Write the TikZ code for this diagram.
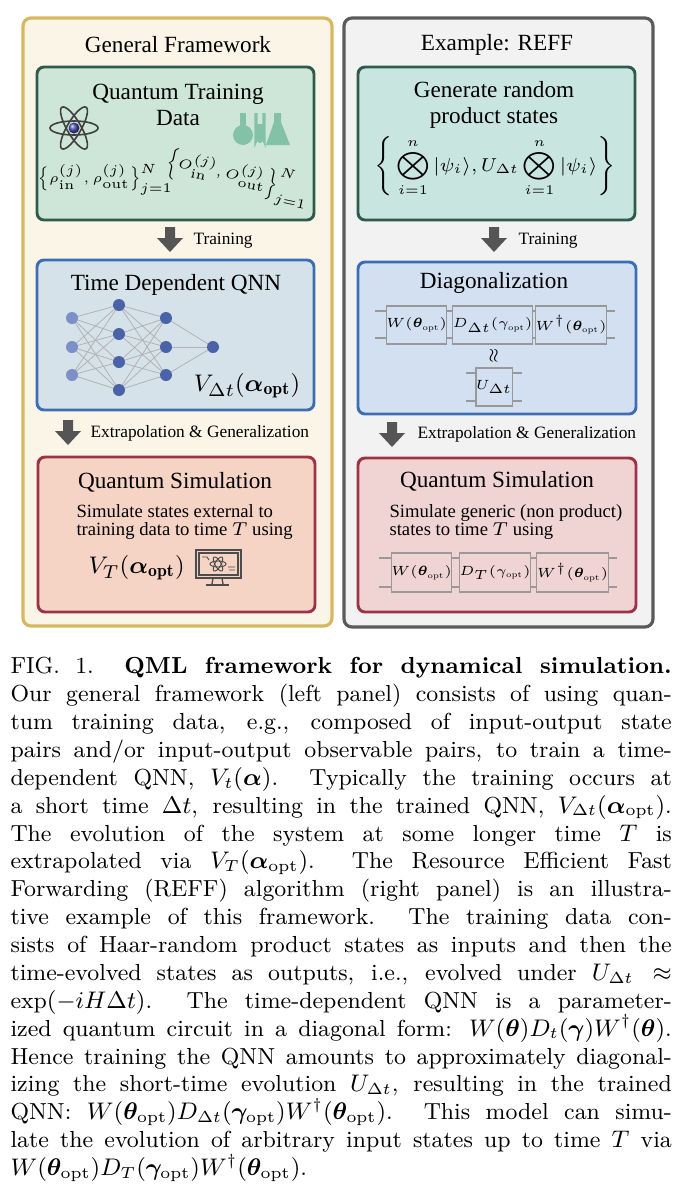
\documentclass[tikz,border=0pt]{standalone}
\usepackage{amsmath,amssymb,bm}
\usepackage{fontspec}
\newfontfamily\tms{Liberation Serif}
\usetikzlibrary{calc}
\definecolor{lpanel}{HTML}{FBF5E8}\definecolor{lpanelb}{HTML}{D8B85E}
\definecolor{rpanel}{HTML}{F2F2F2}\definecolor{rpanelb}{HTML}{5A5A5A}
\definecolor{grn}{HTML}{CDE6D8}\definecolor{grn2}{HTML}{C8E6DF}\definecolor{grnb}{HTML}{2E5B4B}
\definecolor{blu}{HTML}{D6E2EA}\definecolor{blu2}{HTML}{D2E0F2}\definecolor{blub}{HTML}{3D6DB5}
\definecolor{red1}{HTML}{F5D3C5}\definecolor{red2}{HTML}{F0D3D3}\definecolor{redb}{HTML}{9E3346}
\definecolor{arrc}{HTML}{555555}\definecolor{nn1}{HTML}{7C8FC6}\definecolor{nn2}{HTML}{4A62A8}
\definecolor{flask}{HTML}{83C2A7}
\newcommand{\downarr}[2]{\fill[arrc] (#1-5,#2) -- (#1+5,#2) -- (#1+5,#2+11) -- (#1+13,#2+11) -- (#1,#2+25) -- (#1-13,#2+11) -- (#1-5,#2+11) -- cycle;}
\begin{document}
\begin{tikzpicture}[x=0.375pt,y=-0.375pt,
  panel/.style={rounded corners=8pt*0.375,line width=1.2pt},
  box/.style={rounded corners=7pt*0.375,line width=1.1pt},
  txt/.style={inner sep=0pt,font=\tms\fontsize{8.7}{10.5}\selectfont},
  sub/.style={inner sep=0pt,font=\tms\fontsize{7}{8.5}\selectfont,align=left},
  lab/.style={inner sep=0pt,font=\tms\fontsize{6.5}{8}\selectfont,anchor=west},
  gate/.style={draw=gray!80,line width=0.4pt,inner sep=0pt,font=\fontsize{4.3}{5}\selectfont},
  wire/.style={draw=gray!80,line width=0.4pt},
  nd/.style={circle,inner sep=0pt,minimum size=12*0.375pt}]
\useasboundingbox (0,0) rectangle (680,1200);
% panels
\draw[panel,fill=lpanel,draw=lpanelb] (23,18) rectangle (332,626);
\draw[panel,fill=rpanel,draw=rpanelb] (344,18) rectangle (653,627);
\node[txt] (t1) at (178,45) {General Framework};
\node[txt] (t2) at (497,45) {Example: REFF};
% left boxes
\draw[box,fill=grn,draw=grnb] (37,67) rectangle (314,220);
\draw[box,fill=blu,draw=blub] (37,260) rectangle (314,410);
\draw[box,fill=red1,draw=redb] (38,457) rectangle (315,612);
% right boxes
\draw[box,fill=grn2,draw=grnb] (358,67) rectangle (635,220);
\draw[box,fill=blu2,draw=blub] (358,262) rectangle (636,414);
\draw[box,fill=red2,draw=redb] (358,458) rectangle (636,612);
% left green content
\node[txt,align=center] (qtd) at (178,105) {Quantum Training\\[-1pt]Data};
\begin{scope}[shift={(74,128)},draw=black!75,line width=0.6pt]
 \foreach \a in {0,60,120}{\draw[rotate=\a] (0,0) ellipse (24 and 7);}
 \shade[ball color=blue!40!gray] (0,0) circle (5.5);
\end{scope}
\begin{scope}[fill=flask,draw=flask]
 \fill (243,135) circle (10); \fill (240,113) rectangle (246,128);
 \draw[line width=1.2pt] (256,113) -- (256,140) arc (180:360:4) -- (264,113);
 \fill (257,124) rectangle (263,140); \fill (260,140) circle (3);
 \fill (274,113) -- (281,113) -- (281,122) -- (290,145) -- (266,145) -- (274,122) -- cycle;
\end{scope}
\node[inner sep=0pt,font=\fontsize{5}{6}\selectfont] (rho) at (106,180) {$\Big\{\rho_{\rm in}^{(j)},\rho_{\rm out}^{(j)}\Big\}_{j=1}^{N}$};
\node[inner sep=0pt,font=\fontsize{5}{6}\selectfont,rotate=-12] (obs) at (238,178) {$\bigg\{O_{\rm in}^{(j)},O_{\rm out}^{(j)}\bigg\}_{j=1}^{N}$};
% arrows
\downarr{170}{227}
\node[lab] (tr1) at (193,241) {Training};
\downarr{494}{227}
\node[lab] (tr2) at (518,241) {Training};
\downarr{68}{420}
\node[lab] (ex1) at (90,433) {Extrapolation \& Generalization};
\downarr{392}{422}
\node[lab] (ex2) at (417,434) {Extrapolation \& Generalization};
% QNN
\node[txt] (tdq) at (176,285) {Time Dependent QNN};
\foreach \i/\y in {1/318,2/347,3/375}{\coordinate (a\i) at (72,\y);}
\foreach \i/\y in {1/305,2/334,3/362,4/390}{\coordinate (b\i) at (119,\y);}
\foreach \i/\y in {1/318,2/347,3/375}{\coordinate (c\i) at (166,\y);}
\coordinate (d1) at (213,347);
\foreach \i in {1,2,3}{\foreach \j in {1,2,3,4}{\draw[gray!60,line width=0.3pt] (a\i) -- (b\j) (b\j) -- (c\i);}\draw[gray!60,line width=0.3pt] (c\i) -- (d1);}
\foreach \i in {1,2,3}{\node[nd,fill=nn1] (na\i) at (a\i) {};\node[nd,fill=nn2] (nc\i) at (c\i) {};}
\foreach \i in {1,2,3,4}{\node[nd,fill=nn2] (nb\i) at (b\i) {};}
\node[nd,fill=nn2] (nd1) at (d1) {};
\node[inner sep=0pt,font=\fontsize{9.5}{11}\selectfont] (vdt) at (247,386) {$V_{\Delta t}(\bm{\alpha}_{\mathbf{opt}})$};
% left red
\node[txt] (qs1) at (175,482) {Quantum Simulation};
\node[sub,anchor=west] (ss1) at (76,522) {Simulate states external to\\[-1.5pt]training data to time $T$ using};
\node[inner sep=0pt,font=\fontsize{9.5}{11}\selectfont,anchor=west] (vt) at (88,568) {$V_{T}(\bm{\alpha}_{\mathbf{opt}})$};
\begin{scope}[draw=black!70,line width=0.5pt]
 \draw (196,550) rectangle (241,578); \draw (199,553) rectangle (238,575);
 \draw (213,578) -- (212,584) (222,578) -- (223,584); \draw (206,585) -- (229,585);
 \foreach \a in {0,60,120}{\draw[rotate around={\a:(218,564)},line width=0.35pt] (218,564) ellipse (8 and 3);}
 \draw[line width=0.35pt] (202,557) -- (207,557) -- (209,560) (228,567) -- (235,567) (229,570) -- (235,570);
\end{scope}
% right green
\node[txt,align=center] (grp) at (494,105) {Generate random\\[-1pt]product states};
\node[inner sep=0pt,font=\fontsize{7.4}{9}\selectfont] (prod) at (495,167) {$\displaystyle\Bigg\{\bigotimes_{i=1}^{n}|\psi_i\rangle,U_{\Delta t}\bigotimes_{i=1}^{n}|\psi_i\rangle\Bigg\}$};
% right blue
\node[txt] (diag) at (494,283) {Diagonalization};
\draw[wire] (375,311) -- (615,311) (375,338) -- (615,338);
\node[gate,fill=blu2,minimum width=59*0.375pt,minimum height=38*0.375pt] (g1) at (416.5,325) {$W(\bm{\theta}_{\rm opt})$};
\node[gate,fill=blu2,minimum width=69*0.375pt,minimum height=38*0.375pt] (g2) at (492.5,325) {$D_{\Delta t}(\gamma_{\rm opt})$};
\node[gate,fill=blu2,minimum width=64*0.375pt,minimum height=38*0.375pt] (g3) at (571,325) {$W^{\dagger}(\bm{\theta}_{\rm opt})$};
\node[inner sep=0pt,rotate=90,font=\fontsize{6}{7}\selectfont] (apx) at (494,356) {$\approx$};
\draw[wire] (466,373) -- (522,373) (466,401) -- (522,401);
\node[gate,fill=blu2,minimum width=32*0.375pt,minimum height=38*0.375pt] (gu) at (494,387) {$U_{\scriptscriptstyle\Delta t}$};
% right red
\node[txt] (qs2) at (497,481) {Quantum Simulation};
\node[sub,anchor=west] (ss2) at (389,522) {Simulate generic (non product)\\[-1.5pt]states to time $T$ using};
\draw[wire] (379,558) -- (617,558) (379,587) -- (617,587);
\node[gate,fill=red2,minimum width=59*0.375pt,minimum height=39*0.375pt] (h1) at (421.5,572.5) {$W(\bm{\theta}_{\rm opt})$};
\node[gate,fill=red2,minimum width=64*0.375pt,minimum height=39*0.375pt] (h2) at (495,572.5) {$D_{T}(\gamma_{\rm opt})$};
\node[gate,fill=red2,minimum width=65*0.375pt,minimum height=39*0.375pt] (h3) at (572.5,572.5) {$W^{\dagger}(\bm{\theta}_{\rm opt})$};
% caption
\node[anchor=north west,inner sep=0pt,text width=248pt,align=justify,font=\fontsize{8.7}{10.45}\selectfont] (cap) at (10,657) {%
\tolerance=10000\parindent=0pt\lineskiplimit=-5pt\lineskip=0pt
FIG. 1.\ \ \textbf{QML framework for dynamical simulation.}\linebreak
Our general framework (left panel) consists of using quan-\linebreak
tum training data, e.g., composed of input-output state\linebreak
pairs and/or input-output observable pairs, to train a time-\linebreak
dependent QNN, $V_t(\bm{\alpha})$.\ \ Typically the training occurs at\linebreak
a short time $\Delta t$, resulting in the trained QNN, $V_{\Delta t}(\bm{\alpha}_{\rm opt})$.\linebreak
The evolution of the system at some longer time $T$ is\linebreak
extrapolated via $V_T(\bm{\alpha}_{\rm opt})$.\ \ The Resource Efficient Fast\linebreak
Forwarding (REFF) algorithm (right panel) is an illustra-\linebreak
tive example of this framework.\ \ The training data con-\linebreak
sists of Haar-random product states as inputs and then the\linebreak
time-evolved states as outputs, i.e., evolved under $U_{\Delta t}\approx$\linebreak
$\exp(-iH\Delta t)$.\ \ The time-dependent QNN is a parameter-\linebreak
ized quantum circuit in a diagonal form: $W(\bm{\theta})D_t(\bm{\gamma})W^{\dagger}(\bm{\theta})$.\linebreak
Hence training the QNN amounts to approximately diagonal-\linebreak
izing the short-time evolution $U_{\Delta t}$, resulting in the trained\linebreak
QNN: $W(\bm{\theta}_{\rm opt})D_{\Delta t}(\bm{\gamma}_{\rm opt})W^{\dagger}(\bm{\theta}_{\rm opt})$.\ \ This model can simu-\linebreak
late the evolution of arbitrary input states up to time $T$ via\linebreak
$W(\bm{\theta}_{\rm opt})D_T(\bm{\gamma}_{\rm opt})W^{\dagger}(\bm{\theta}_{\rm opt})$.\par};
\end{tikzpicture}
\end{document}
